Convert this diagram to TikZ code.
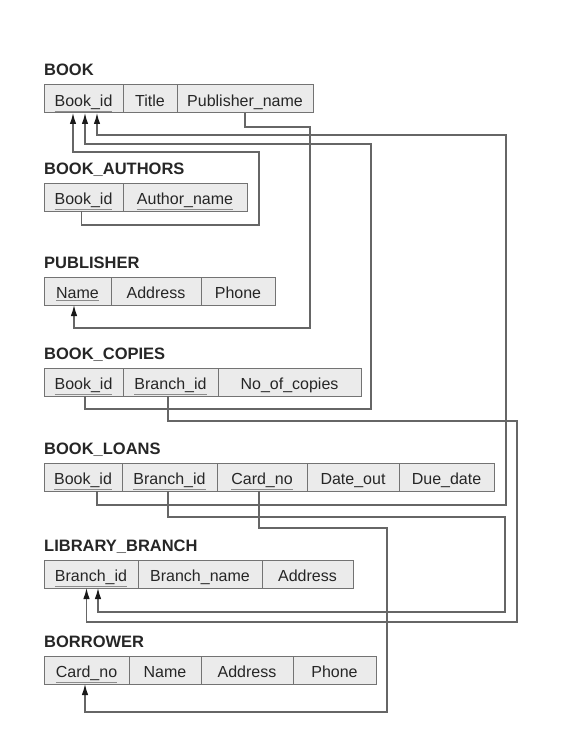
\documentclass[tikz,border=0pt]{standalone}
\usepackage{fontspec}
\setmainfont{Liberation Sans}
\usetikzlibrary{arrows.meta, positioning}
\newcommand{\pkey}[1]{{\color{black!45}\underline{\color{black!85}#1}}}
\tikzstyle{attr} = [draw=black!55, fill=black!8, line width=1pt, minimum height=28pt, inner sep=0pt, outer sep=0pt, text height=15pt, text depth=0pt, text=black!85, font=\fontsize{16}{18}\selectfont]
\tikzstyle{relname} = [anchor=base west, inner sep=0pt, text=black!85, font=\bfseries\fontsize{16.5}{18}\selectfont]
\tikzstyle{fkey} = [draw=black!60, line width=1.3pt, -{Latex[length=11pt,width=6.5pt,black!90]}]

\begin{document}
\begin{tikzpicture}[x=1pt, y=-1pt]
	\useasboundingbox (0,0) rectangle (574,741);
	% BOOK
	\node[attr, minimum width=79pt, anchor=north west] (bkid) at (44,85) {\pkey{Book\_id}};
	\node[attr, minimum width=54pt, right=0pt of bkid] (btitle) {Title};
	\node[attr, minimum width=136pt, right=0pt of btitle] (bpub) {Publisher\_name};
	\node[relname] (tbook) at ([yshift=9pt]bkid.north west) {BOOK};
	% BOOK_AUTHORS
	\node[attr, minimum width=79pt, anchor=north west] (baid) at (44,183) {\pkey{Book\_id}};
	\node[attr, minimum width=124pt, right=0pt of baid] (baname) {\pkey{Author\_name}};
	\node[relname] (tauth) at ([yshift=9pt]baid.north west) {BOOK\_AUTHORS};
	% PUBLISHER
	\node[attr, minimum width=67pt, anchor=north west] (pname) at (44,277) {\pkey{Name}};
	\node[attr, minimum width=90pt, right=0pt of pname] (paddr) {Address};
	\node[attr, minimum width=74pt, right=0pt of paddr] (pphone) {Phone};
	\node[relname] (tpub) at ([yshift=9pt]pname.north west) {PUBLISHER};
	% BOOK_COPIES
	\node[attr, minimum width=79pt, anchor=north west] (cbid) at (44,368) {\pkey{Book\_id}};
	\node[attr, minimum width=95pt, right=0pt of cbid] (cbrid) {\pkey{Branch\_id}};
	\node[attr, minimum width=143pt, right=0pt of cbrid] (ccopies) {No\_of\_copies};
	\node[relname] (tcopies) at ([yshift=9pt]cbid.north west) {BOOK\_COPIES};
	% BOOK_LOANS
	\node[attr, minimum width=78pt, anchor=north west] (lbid) at (44,463) {\pkey{Book\_id}};
	\node[attr, minimum width=95pt, right=0pt of lbid] (lbrid) {\pkey{Branch\_id}};
	\node[attr, minimum width=90pt, right=0pt of lbrid] (lcard) {\pkey{Card\_no}};
	\node[attr, minimum width=92pt, right=0pt of lcard] (ldout) {Date\_out};
	\node[attr, minimum width=95pt, right=0pt of ldout] (ldue) {Due\_date};
	\node[relname] (tloans) at ([yshift=9pt]lbid.north west) {BOOK\_LOANS};
	% LIBRARY_BRANCH
	\node[attr, minimum width=94pt, anchor=north west] (rbrid) at (44,560) {\pkey{Branch\_id}};
	\node[attr, minimum width=124pt, right=0pt of rbrid] (rbname) {Branch\_name};
	\node[attr, minimum width=91pt, right=0pt of rbname] (raddr) {Address};
	\node[relname] (tbranch) at ([yshift=9pt]rbrid.north west) {LIBRARY\_BRANCH};
	% BORROWER
	\node[attr, minimum width=85pt, anchor=north west] (wcard) at (44,656) {\pkey{Card\_no}};
	\node[attr, minimum width=72pt, right=0pt of wcard] (wname) {Name};
	\node[attr, minimum width=92pt, right=0pt of wname] (waddr) {Address};
	\node[attr, minimum width=83pt, right=0pt of waddr] (wphone) {Phone};
	\node[relname] (tborrow) at ([yshift=9pt]wcard.north west) {BORROWER};
	% foreign keys
	\draw[fkey] (bpub.south) -- ++(0,14) -- ++(65,0) -- ++(0,201) -| ([xshift=-3.5pt]pname.south);
	\draw[fkey] ([xshift=-2pt]baid.south) -- ++(0,14) -- ++(177.5,0) -- ++(0,-73) -| ([xshift=-10.5pt]bkid.south);
	\draw[fkey] ([xshift=1.5pt]cbid.south) -- ++(0,13) -- ++(286,0) -- ++(0,-265) -| ([xshift=1.5pt]bkid.south);
	\draw[fkey] ([xshift=14pt]lbid.south) -- ++(0,14) -- ++(409,0) -- ++(0,-370) -| ([xshift=13.5pt]bkid.south);
	\draw[fkey] ([xshift=-2.5pt]cbrid.south) -- ++(0,25) -- ++(349,0) -- ++(0,201) -| ([xshift=-4.5pt]rbrid.south);
	\draw[fkey] ([xshift=-1.5pt]lbrid.south) -- ++(0,26) -- ++(337,0) -- ++(0,95) -| ([xshift=7pt]rbrid.south);
	\draw[fkey] ([xshift=-3pt]lcard.south) -- ++(0,37) -- ++(128,0) -- ++(0,184) -| ([xshift=-1.5pt]wcard.south);
\end{tikzpicture}
\end{document}
